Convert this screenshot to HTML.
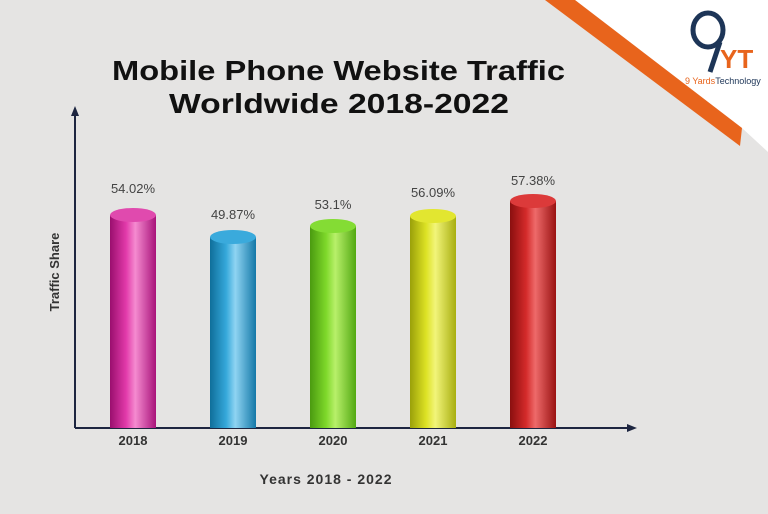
<!DOCTYPE html>
<html><head><style>
body{margin:0;width:768px;height:509px;overflow:hidden;background:#e5e4e3;font-family:"Liberation Sans",sans-serif}
</style></head><body>
<svg width="768" height="509" xmlns="http://www.w3.org/2000/svg">
<defs>
<linearGradient id="pk" x1="0" x2="1"><stop offset="0" stop-color="#9a0f6e"/><stop offset=".35" stop-color="#e23aaa"/><stop offset=".55" stop-color="#f58bd0"/><stop offset="1" stop-color="#a8137a"/></linearGradient>
<linearGradient id="bl" x1="0" x2="1"><stop offset="0" stop-color="#0f6e9a"/><stop offset=".35" stop-color="#35a8da"/><stop offset=".55" stop-color="#8fd4f2"/><stop offset="1" stop-color="#1478a8"/></linearGradient>
<linearGradient id="gr" x1="0" x2="1"><stop offset="0" stop-color="#4a9a10"/><stop offset=".35" stop-color="#7ed82a"/><stop offset=".55" stop-color="#b8f06a"/><stop offset="1" stop-color="#52a812"/></linearGradient>
<linearGradient id="ye" x1="0" x2="1"><stop offset="0" stop-color="#9aa00a"/><stop offset=".35" stop-color="#dde224"/><stop offset=".55" stop-color="#f2f57a"/><stop offset="1" stop-color="#a8ae10"/></linearGradient>
<linearGradient id="rd" x1="0" x2="1"><stop offset="0" stop-color="#8a0f0f"/><stop offset=".35" stop-color="#d42a2a"/><stop offset=".55" stop-color="#ee6a6a"/><stop offset="1" stop-color="#9a1212"/></linearGradient>
</defs>
<polygon points="575,0 768,0 768,152 742,128" fill="#fff"/>
<polygon points="545,0 575,0 742,128 740,146" fill="#e8641c"/>
<text x="112" y="80" textLength="453" lengthAdjust="spacingAndGlyphs" font-size="28" font-weight="bold" fill="#111">Mobile Phone Website Traffic</text>
<text x="169" y="113" textLength="340" lengthAdjust="spacingAndGlyphs" font-size="28" font-weight="bold" fill="#111">Worldwide 2018-2022</text>
<g transform="translate(690,10)">
<ellipse cx="18" cy="20" rx="15" ry="17" fill="none" stroke="#1d3557" stroke-width="5"/>
<line x1="30" y1="32" x2="20" y2="62" stroke="#1d3557" stroke-width="5"/>
<text x="30" y="58" font-size="26" font-weight="bold" fill="#e8641c">YT</text>
<text x="-5" y="74" font-size="9" fill="#e8641c">9 Yards<tspan fill="#1d3557">Technology</tspan></text>
</g>
<line x1="75" y1="113" x2="75" y2="428" stroke="#1d2540" stroke-width="2"/>
<polygon points="75,106 71,116 79,116" fill="#1d2540"/>
<line x1="75" y1="428" x2="630" y2="428" stroke="#1d2540" stroke-width="2"/>
<polygon points="637,428 627,424 627,432" fill="#1d2540"/>
<text transform="translate(59,272) rotate(-90)" text-anchor="middle" font-size="13" font-weight="bold" fill="#333">Traffic Share</text>
<text x="326" y="484" text-anchor="middle" font-size="14" font-weight="bold" fill="#333" letter-spacing="1">Years 2018 - 2022</text>
<g font-size="13" fill="#444" text-anchor="middle">
<rect x="110" y="215" width="46" height="213" fill="url(#pk)"/><ellipse cx="133" cy="215" rx="23" ry="7" fill="#e04aae"/>
<text x="133" y="193">54.02%</text><text x="133" y="445" font-weight="bold" fill="#333">2018</text>
<rect x="210" y="237" width="46" height="191" fill="url(#bl)"/><ellipse cx="233" cy="237" rx="23" ry="7" fill="#3aaadc"/>
<text x="233" y="219">49.87%</text><text x="233" y="445" font-weight="bold" fill="#333">2019</text>
<rect x="310" y="226" width="46" height="202" fill="url(#gr)"/><ellipse cx="333" cy="226" rx="23" ry="7" fill="#84dc34"/>
<text x="333" y="209">53.1%</text><text x="333" y="445" font-weight="bold" fill="#333">2020</text>
<rect x="410" y="216" width="46" height="212" fill="url(#ye)"/><ellipse cx="433" cy="216" rx="23" ry="7" fill="#e2e630"/>
<text x="433" y="197">56.09%</text><text x="433" y="445" font-weight="bold" fill="#333">2021</text>
<rect x="510" y="201" width="46" height="227" fill="url(#rd)"/><ellipse cx="533" cy="201" rx="23" ry="7" fill="#dc3a3a"/>
<text x="533" y="185">57.38%</text><text x="533" y="445" font-weight="bold" fill="#333">2022</text>
</g>
</svg>
</body></html>
